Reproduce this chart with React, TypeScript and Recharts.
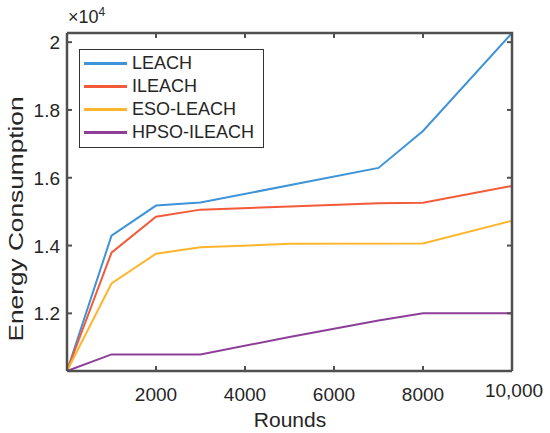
import React from 'react';
import { LineChart, Line, XAxis, YAxis, Legend } from 'recharts';

const leachRounds = [0, 1000, 2000, 3000, 7000, 8000, 10000];
const leachEnergy = [10300, 14290, 15180, 15270, 16290, 17380, 20270];

const ileachRounds = [0, 1000, 2000, 3000, 5000, 7000, 8000, 10000];
const ileachEnergy = [10300, 13790, 14850, 15060, 15150, 15250, 15260, 15760];

const esoRounds = [0, 1000, 2000, 3000, 5000, 8000, 10000];
const esoEnergy = [10300, 12880, 13760, 13950, 14050, 14060, 14730];

const hpsoRounds = [0, 1000, 3000, 5000, 7000, 8000, 10000];
const hpsoEnergy = [10300, 10790, 10790, 11300, 11790, 12000, 12000];

const xTicks = [2000, 4000, 6000, 8000, 10000];
const yTicks = [12000, 14000, 16000, 18000, 20000];
const xDomain = [0, 10000];
const yDomain = [10300, 20270];

const toRows = (rounds: number[], energy: number[]) =>
  rounds.map((round, i) => ({ round, energy: energy[i] }));

const series = [
  { name: 'LEACH', color: '#3f93d8', data: toRows(leachRounds, leachEnergy) },
  { name: 'ILEACH', color: '#f25a3a', data: toRows(ileachRounds, ileachEnergy) },
  { name: 'ESO-LEACH', color: '#fdb52e', data: toRows(esoRounds, esoEnergy) },
  { name: 'HPSO-ILEACH', color: '#8d3f98', data: toRows(hpsoRounds, hpsoEnergy) },
];

const W = 550;
const H = 433;
const MARGIN = { top: 33, right: 38, bottom: 22, left: 7 };
const X_AXIS_H = 40;
const Y_AXIS_W = 60;
const PLOT_W = W - MARGIN.left - Y_AXIS_W - MARGIN.right;
const PLOT_H = H - MARGIN.top - MARGIN.bottom - X_AXIS_H;

const AXIS = '#505050';
const FONT = '"Liberation Sans", Arial, sans-serif';
const TICK = 5;

// ticks point inward and are mirrored on top/right, like a MATLAB box
function BottomTick(props: any) {
  const { x, y, payload } = props;
  const axisY = Number(y) - 8;
  const topY = axisY - PLOT_H;
  const v = payload.value;
  const last = v === xDomain[1];
  return (
    <g className="box-x-tick">
      <path d={`M${x},${axisY}v${-TICK}`} stroke={AXIS} strokeWidth={2} fill="none" />
      <path d={`M${x},${topY}v${TICK}`} stroke={AXIS} strokeWidth={2} fill="none" />
      {last && (
        <path d={`M${x - PLOT_W},${topY}H${x}V${axisY}`} fill="none" stroke={AXIS} strokeWidth={2.5} />
      )}
      <text x={x + (last ? 2 : 0)} y={last ? axisY + 26 : axisY + 30} textAnchor="middle"
        fontSize={19} fontFamily={FONT} fill="#262626">
        {last ? '10,000' : v}
      </text>
    </g>
  );
}

function LeftTick(props: any) {
  const { x, y, payload } = props;
  const axisX = Number(x) + 8;
  const rightX = axisX + PLOT_W;
  return (
    <g className="box-y-tick">
      <path d={`M${axisX},${y}h${TICK}`} stroke={AXIS} strokeWidth={2} fill="none" />
      <path d={`M${rightX},${y}h${-TICK}`} stroke={AXIS} strokeWidth={2} fill="none" />
      <text x={x + 1} y={y + 7} textAnchor="end" fontSize={19} fontFamily={FONT} fill="#262626">
        {payload.value / 10000}
      </text>
    </g>
  );
}

const LegendBox = () => (
  <div style={{
    border: '1.5px solid #333', background: '#fff', width: 183, padding: '2px 0 3px 0',
    fontFamily: FONT, fontSize: 18, color: '#262626',
  }}>
    {series.map((s) => (
      <div key={s.name} style={{ display: 'flex', alignItems: 'center', height: 23 }}>
        <div style={{ width: 43, height: 2.5, background: s.color, marginLeft: 4, marginRight: 5 }} />
        <span>{s.name}</span>
      </div>
    ))}
  </div>
);

export default function App() {
  return (
    <div style={{ position: 'absolute', left: 0, top: 0, width: W, height: H, background: '#fff' }}>
      <LineChart width={W} height={H} margin={MARGIN}>
        <XAxis dataKey="round" type="number" domain={xDomain} ticks={xTicks} interval={0}
          height={X_AXIS_H} tickSize={0} tickMargin={8} tick={BottomTick}
          axisLine={{ stroke: AXIS, strokeWidth: 2.5 }} />
        <YAxis type="number" domain={yDomain} ticks={yTicks} interval={0} width={Y_AXIS_W}
          tickSize={0} tickMargin={8} tick={LeftTick}
          axisLine={{ stroke: AXIS, strokeWidth: 2.5 }} allowDataOverflow />
        <Legend layout="vertical" align="center" verticalAlign="middle" content={<LegendBox />}
          wrapperStyle={{ left: 79, top: 49, width: 'auto' }} />
        {series.map((s) => (
          <Line key={s.name} data={s.data} dataKey="energy" name={s.name} type="linear"
            stroke={s.color} strokeWidth={2} dot={false} isAnimationActive={false} />
        ))}
      </LineChart>
      <div style={{ position: 'absolute', left: 68, top: 5, fontFamily: FONT, fontSize: 18, color: '#262626' }}>
        ×10<sup style={{ fontSize: 12 }}>4</sup>
      </div>
      <div style={{
        position: 'absolute', left: 290, top: 427, transform: 'translate(-50%, -78%)',
        fontFamily: FONT, fontSize: 21, color: '#262626', whiteSpace: 'nowrap',
      }}>
        Rounds
      </div>
      <div style={{
        position: 'absolute', left: 16, top: 219,
        transform: 'translate(-50%, -50%) rotate(-90deg) scaleX(1.25)',
        fontFamily: FONT, fontSize: 21, color: '#262626', whiteSpace: 'nowrap',
      }}>
        Energy Consumption
      </div>
    </div>
  );
}
